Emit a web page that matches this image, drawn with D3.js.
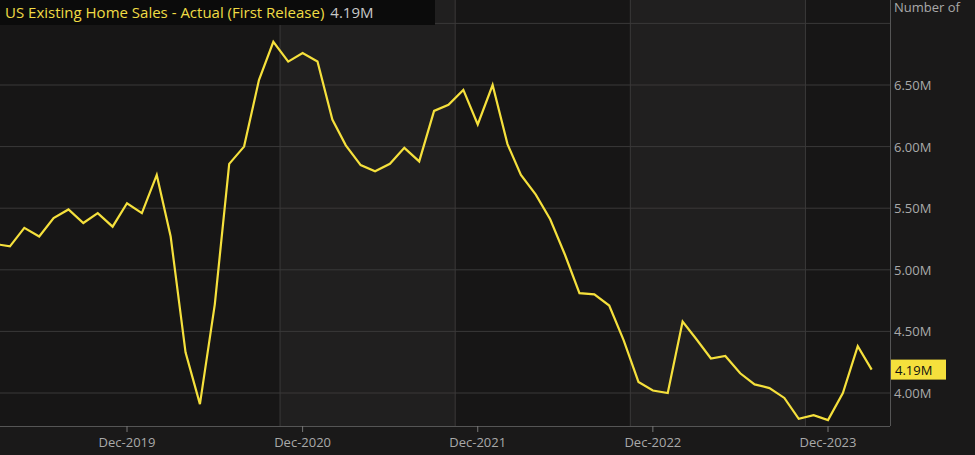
<!DOCTYPE html>
<html lang="en">
<head>
<meta charset="UTF-8">
<title>US Existing Home Sales</title>
<style>
  body { margin: 0; background: #1a1919; }
  svg { display: block; font-family: "Open Sans", "Liberation Sans", sans-serif; }
</style>
</head>
<body>
<svg width="975" height="455"></svg>
<script src="https://d3js.org/d3.v7.min.js"></script>
<script>
// monthly values, Mar-2019 .. Mar-2024 (millions)
var startMonth = [2019, 2];
var sales = [5.21, 5.19, 5.34, 5.27, 5.42, 5.49, 5.38, 5.46, 5.35, 5.54,
             5.46, 5.77, 5.27, 4.33, 3.91, 4.72, 5.86, 6.00, 6.54, 6.85,
             6.69, 6.76, 6.69, 6.22, 6.01, 5.85, 5.80, 5.86, 5.99, 5.88,
             6.29, 6.34, 6.46, 6.18, 6.50, 6.02, 5.77, 5.61, 5.41, 5.12,
             4.81, 4.80, 4.71, 4.43, 4.09, 4.02, 4.00, 4.58, 4.44, 4.28,
             4.30, 4.16, 4.07, 4.04, 3.96, 3.79, 3.82, 3.78, 4.00, 4.38, 4.19];
var yTicks = [4.0, 4.5, 5.0, 5.5, 6.0, 6.5, 7.0];
var xTickLabels = ["Dec-2019", "Dec-2020", "Dec-2021", "Dec-2022", "Dec-2023"];
var bandEdges = ["2020-10-15", "2021-10-15", "2022-10-15", "2023-10-15"];

var parse = d3.timeParse("%Y-%m-%d");
var data = sales.map(function (v, i) {
  return { date: new Date(startMonth[0], startMonth[1] + i, 1), value: v };
});

var plotRight = 890, plotBottom = 426;
var svg = d3.select("svg");

var x = d3.scaleTime()
  .domain([new Date(2019, 11, 1), new Date(2023, 11, 1)])
  .range([127, 828]);
var y = d3.scaleLinear().domain([4.0, 6.5]).range([393, 85]);

svg.append("defs").append("clipPath").attr("id", "plot")
  .append("rect").attr("x", 0).attr("y", 0).attr("width", plotRight).attr("height", plotBottom);

var g = svg.append("g").attr("clip-path", "url(#plot)");

// alternating shaded bands
var edges = bandEdges.map(parse);
g.append("rect").attr("x", 0).attr("y", 0).attr("width", plotRight).attr("height", plotBottom).attr("fill", "#171616");
[[0, 1], [2, 3]].forEach(function (p) {
  g.append("rect")
    .attr("x", x(edges[p[0]])).attr("y", 0)
    .attr("width", x(edges[p[1]]) - x(edges[p[0]])).attr("height", plotBottom)
    .attr("fill", "#201f1f");
});

// grid
g.selectAll(".hg").data(yTicks).enter().append("line")
  .attr("x1", 0).attr("x2", plotRight)
  .attr("y1", function (d) { return y(d); }).attr("y2", function (d) { return y(d); })
  .attr("stroke", "#3a3939").attr("stroke-width", 1);
g.selectAll(".vg").data(edges).enter().append("line")
  .attr("x1", function (d) { return x(d); }).attr("x2", function (d) { return x(d); })
  .attr("y1", 0).attr("y2", plotBottom)
  .attr("stroke", "#3a3939").attr("stroke-width", 1);

// line
g.append("path").datum(data)
  .attr("fill", "none").attr("stroke", "#f5e03c").attr("stroke-width", 2.2)
  .attr("stroke-linejoin", "miter")
  .attr("d", d3.line().x(function (d) { return x(d.date); }).y(function (d) { return y(d.value); }));

// axes lines
svg.append("line").attr("x1", 0).attr("x2", plotRight).attr("y1", plotBottom + 0.5).attr("y2", plotBottom + 0.5)
  .attr("stroke", "#555").attr("stroke-width", 1);
svg.append("line").attr("x1", plotRight + 0.5).attr("x2", plotRight + 0.5).attr("y1", 0).attr("y2", plotBottom)
  .attr("stroke", "#555").attr("stroke-width", 1);

// x ticks
var xDates = xTickLabels.map(function (s) { return d3.timeParse("%b-%Y")(s); });
svg.selectAll(".xt").data(xDates).enter().append("line")
  .attr("x1", function (d) { return x(d); }).attr("x2", function (d) { return x(d); })
  .attr("y1", plotBottom).attr("y2", plotBottom + 6).attr("stroke", "#777");
svg.selectAll(".xl").data(xDates).enter().append("text")
  .attr("x", function (d) { return x(d); }).attr("y", 447)
  .attr("text-anchor", "middle").attr("fill", "#a9a9a9").attr("font-size", 13)
  .text(function (d, i) { return xTickLabels[i]; });

// y labels
svg.selectAll(".yl").data(yTicks.slice(0, 6)).enter().append("text")
  .attr("x", 894).attr("y", function (d) { return y(d) + 5; })
  .attr("fill", "#a9a9a9").attr("font-size", 13)
  .text(function (d) { return d.toFixed(2) + "M"; });
svg.append("text").attr("x", 894).attr("y", 12).attr("fill", "#a9a9a9").attr("font-size", 13).text("Number of");

// last value tag
var last = data[data.length - 1];
svg.append("rect").attr("x", 891).attr("y", y(last.value) - 10).attr("width", 55).attr("height", 20).attr("fill", "#f5e03c");
svg.append("text").attr("x", 895).attr("y", y(last.value) + 5).attr("fill", "#111").attr("font-size", 13)
  .text(last.value.toFixed(2) + "M");

// title box
svg.append("rect").attr("x", 0).attr("y", 0).attr("width", 435).attr("height", 25).attr("fill", "#0b0b0b");
var t = svg.append("text").attr("x", 5).attr("y", 18).attr("font-size", 15);
t.append("tspan").attr("fill", "#f0dc45").text("US Existing Home Sales - Actual (First Release)");
t.append("tspan").attr("fill", "#c8c8c8").attr("dx", 6).text(last.value.toFixed(2) + "M");
</script>
</body>
</html>
